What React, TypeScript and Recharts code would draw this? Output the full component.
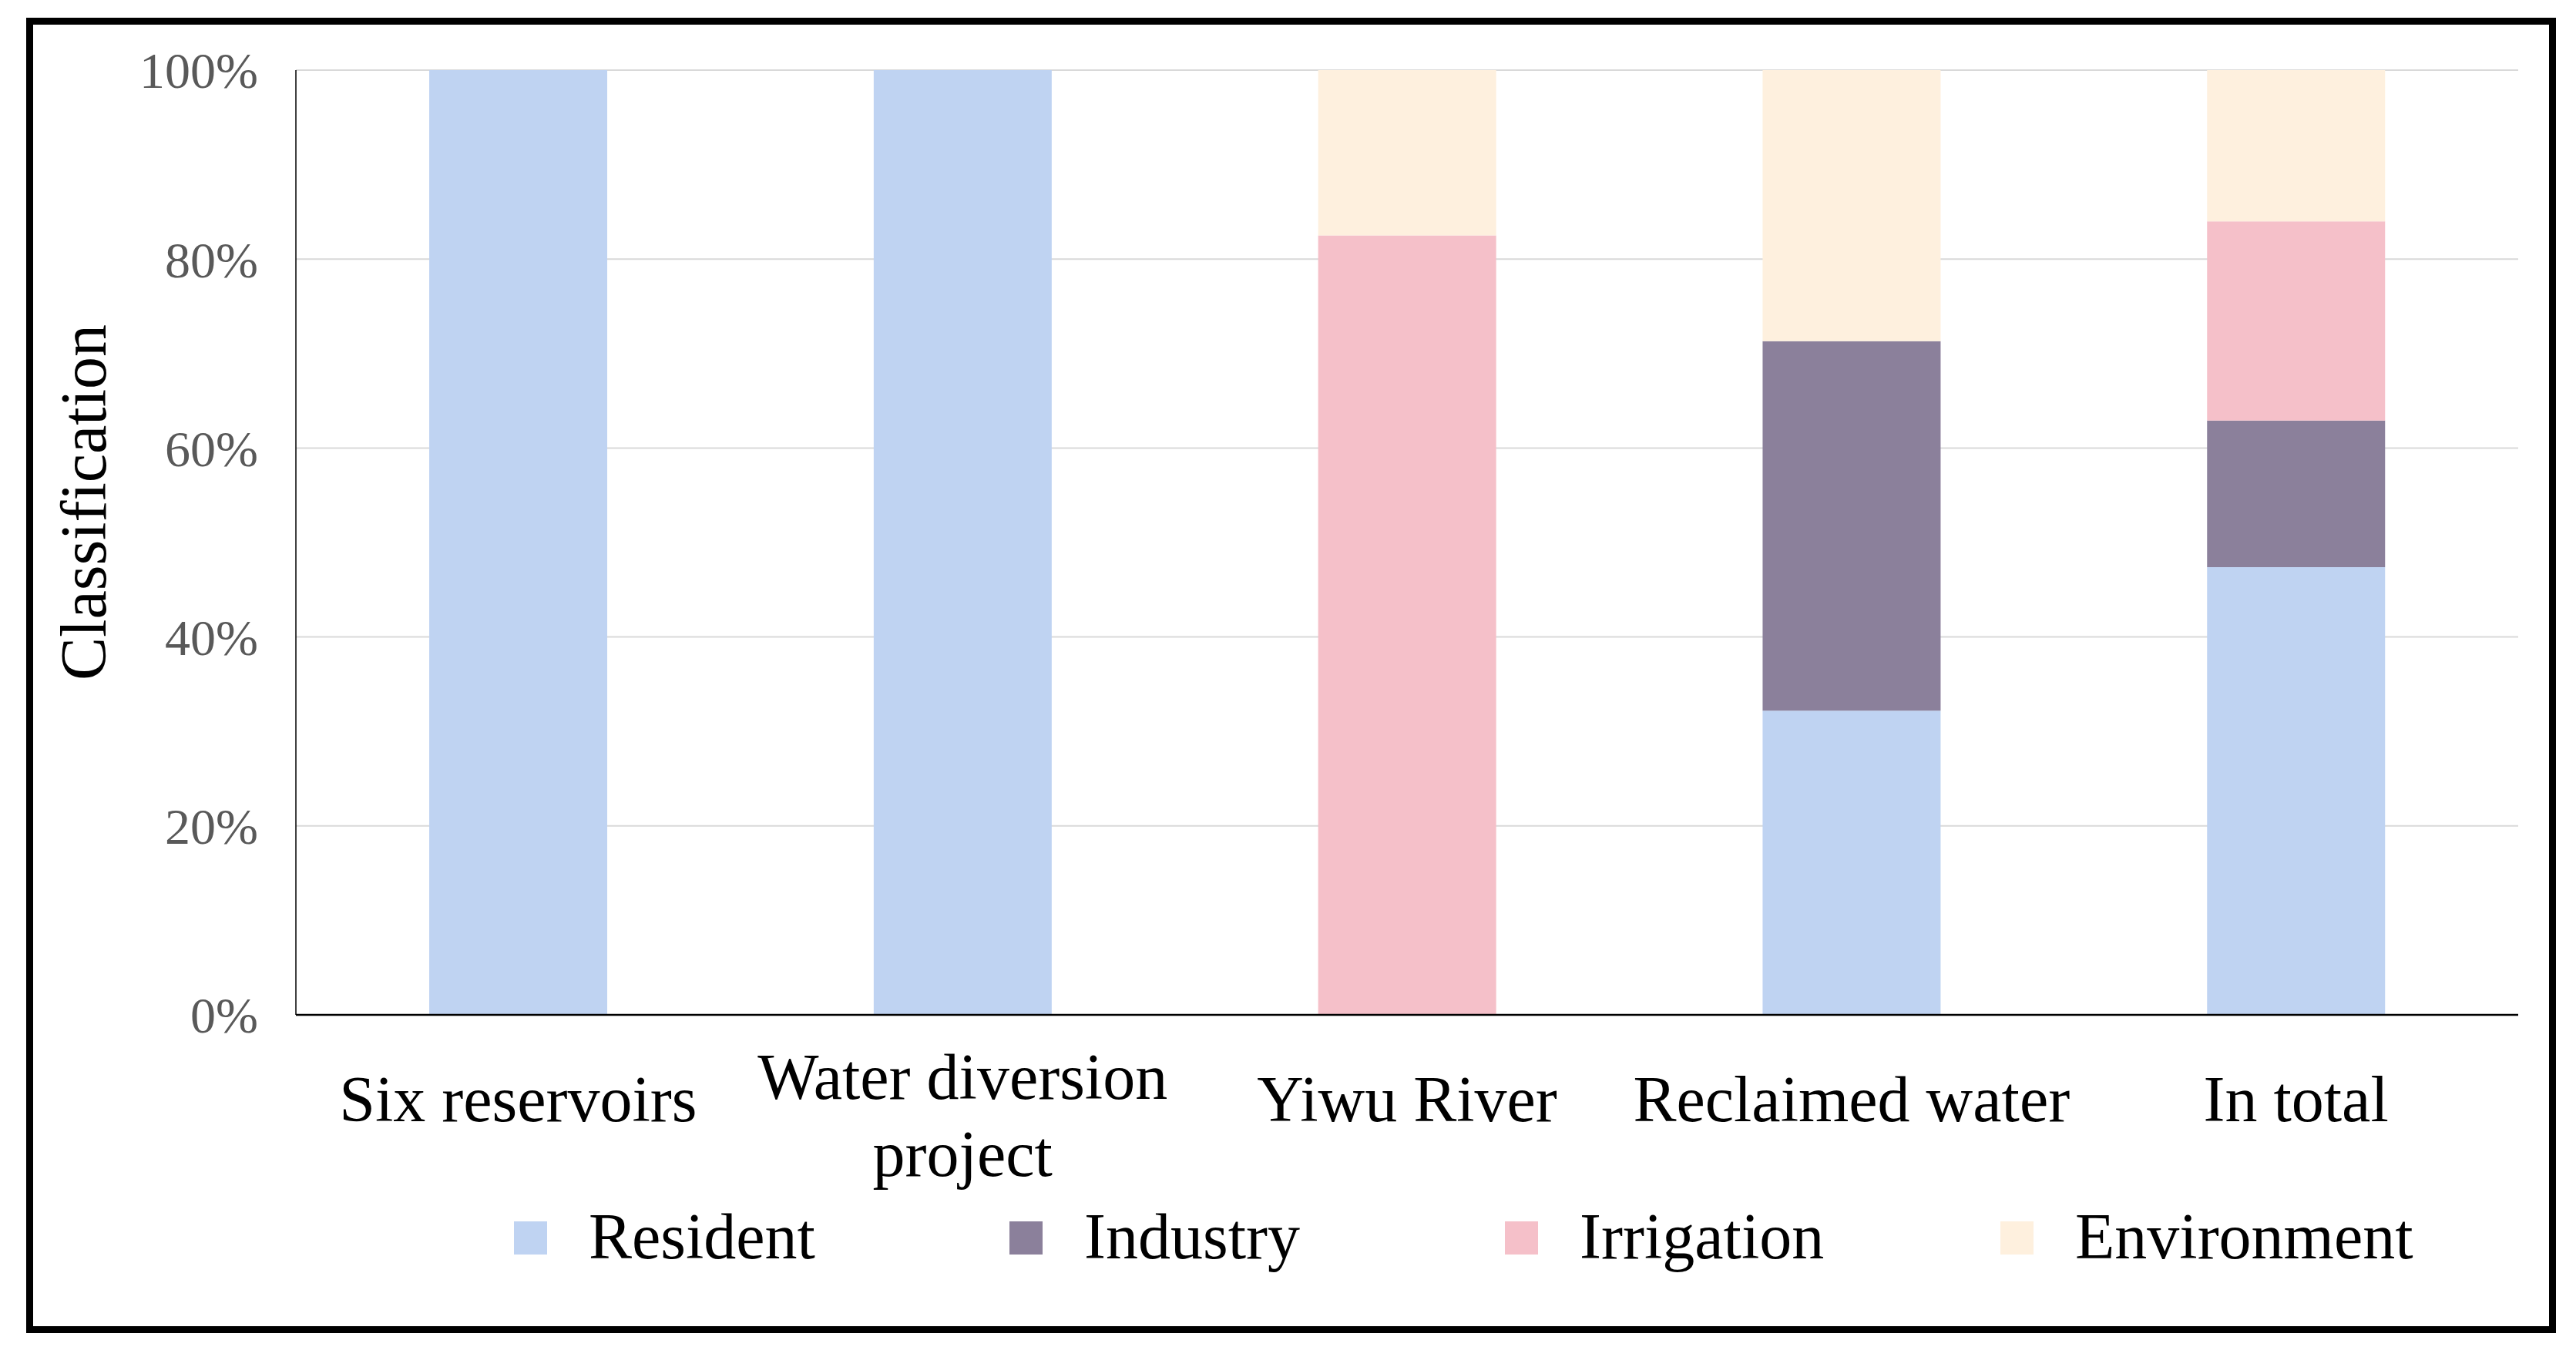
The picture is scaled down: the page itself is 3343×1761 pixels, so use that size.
import React from 'react';
import { BarChart, Bar, XAxis, YAxis, CartesianGrid, Legend } from 'recharts';

const categories = ['Six reservoirs', 'Water diversion\nproject', 'Yiwu River', 'Reclaimed water', 'In total'];
const resident = [100, 100, 0, 32.2, 47.4];
const industry = [0, 0, 0, 39.1, 15.5];
const irrigation = [0, 0, 82.5, 0, 21.1];
const environment = [0, 0, 17.5, 28.7, 16.0];
const yTicks = [0, 20, 40, 60, 80, 100];

const seriesNames = ['Resident', 'Industry', 'Irrigation', 'Environment'];
const seriesColors = ['#BFD3F2', '#8B809B', '#F5C0C9', '#FEF0DE'];

const FONT = '"Liberation Serif", "Times New Roman", serif';

const data = categories.map((name, i) => ({
  name,
  Resident: resident[i],
  Industry: industry[i],
  Irrigation: irrigation[i],
  Environment: environment[i],
}));

const CategoryTick = (props: any) => {
  const { x, y, payload } = props;
  const lines: string[] = String(payload.value).split('\n');
  const firstDy = lines.length === 1 ? 130 : 101;
  return (
    <text x={x} y={y} textAnchor="middle" fontFamily={FONT} fontSize={84} fill="#000">
      {lines.map((line, i) => (
        <tspan key={i} x={x} dy={i === 0 ? firstDy : 100}>
          {line}
        </tspan>
      ))}
    </text>
  );
};

const YTitle = () => (
  <text
    x={137}
    y={652}
    transform="rotate(-90 137 652)"
    textAnchor="middle"
    fontFamily={FONT}
    fontSize={84}
    fill="#000"
  >
    Classification
  </text>
);

// legend items sit on a fixed pitch, like the Excel original
const LegendContent = () => (
  <svg width={3343} height={130} style={{ display: 'block' }}>
    {seriesNames.map((name, i) => (
      <g key={name}>
        <rect x={667 + i * 643} y={42} width={43} height={43} fill={seriesColors[i]} />
        <text x={764 + i * 643} y={90} fontFamily={FONT} fontSize={84} fill="#000">
          {name}
        </text>
      </g>
    ))}
  </svg>
);

export default function App() {
  return (
    <div style={{ position: 'absolute', left: 0, top: 0, width: 3343, height: 1761, background: '#fff' }}>
      <div
        style={{
          position: 'absolute',
          left: 34,
          top: 23,
          width: 3283,
          height: 1707,
          border: '9px solid #000',
          boxSizing: 'border-box',
        }}
      />
      <div style={{ position: 'absolute', left: 0, top: 0 }}>
        <BarChart
          width={3343}
          height={1761}
          data={data}
          margin={{ top: 91, right: 75, left: 0, bottom: 0 }}
          barCategoryGap="30%"
        >
          <CartesianGrid vertical={false} stroke="#d9d9d9" strokeWidth={2} />
          <XAxis
            dataKey="name"
            interval={0}
            height={314}
            tickLine={false}
            axisLine={{ stroke: '#000', strokeWidth: 2.5 }}
            tick={<CategoryTick />}
          />
          <YAxis
            domain={[0, 100]}
            ticks={yTicks}
            width={384}
            tickFormatter={(v: number) => `${v}%`}
            tickLine={false}
            tickSize={0}
            tickMargin={49}
            axisLine={{ stroke: '#000', strokeWidth: 1.5 }}
            tick={{ fontSize: 66, fill: '#595959', fontFamily: FONT }}
            label={<YTitle />}
          />
          <Legend
            verticalAlign="bottom"
            content={<LegendContent />}
            wrapperStyle={{ left: 0, top: 1543, width: 3343 }}
          />
          {seriesNames.map((name, i) => (
            <Bar key={name} dataKey={name} stackId="a" fill={seriesColors[i]} isAnimationActive={false} />
          ))}
        </BarChart>
      </div>
    </div>
  );
}
